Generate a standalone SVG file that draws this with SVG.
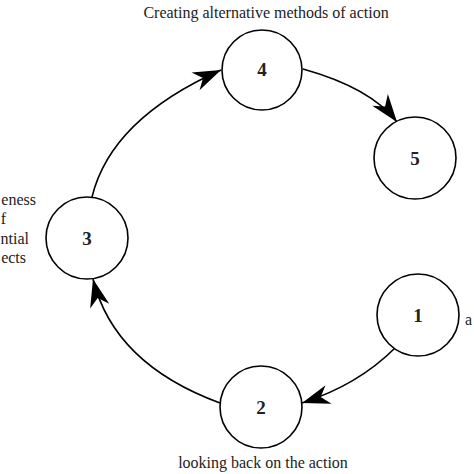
<svg xmlns="http://www.w3.org/2000/svg" width="474" height="474" viewBox="0 0 474 474">
<style>
.node{fill:#fff;stroke:#000;stroke-width:1.6}
.num{font-family:"Liberation Serif",serif;font-weight:bold;font-size:19px;text-anchor:middle;fill:#222}
.lbl{font-family:"Liberation Serif",serif;font-size:16px;fill:#222}
.edge{fill:none;stroke:#000;stroke-width:1.6}
</style>
<defs>
<marker id="ah" markerUnits="userSpaceOnUse" markerWidth="32" markerHeight="24" viewBox="-29 -11 31 22" refX="0" refY="0" orient="auto">
<path d="M0,0 L-27,-9.5 L-19,0 L-27,9.5 z" fill="#000"/>
</marker>
</defs>
<rect width="474" height="474" fill="#fff"/>
<g id="connectors">
<path class="edge" d="M395,348 Q358,385 302,403" marker-end="url(#ah)"/>
<path class="edge" d="M220,403 Q114,364 93,279" marker-end="url(#ah)"/>
<path class="edge" d="M92,197 Q111,119 221,70" marker-end="url(#ah)"/>
<path class="edge" d="M303,69 Q371,88 397,122" marker-end="url(#ah)"/>
</g>
<g id="node1"><circle class="node" cx="418" cy="315" r="41"/><text class="num" x="418" y="322">1</text></g>
<g id="node2"><circle class="node" cx="261" cy="407" r="41"/><text class="num" x="261" y="414">2</text></g>
<g id="node3"><circle class="node" cx="87" cy="238" r="41"/><text class="num" x="87" y="245">3</text></g>
<g id="node4"><circle class="node" cx="262" cy="70" r="40"/><text class="num" x="262" y="76">4</text></g>
<g id="node5"><circle class="node" cx="415" cy="158" r="41"/><text class="num" x="415" y="165">5</text></g>
<text class="lbl" x="266" y="18" text-anchor="middle">Creating alternative methods of action</text>
<text class="lbl" x="263" y="468" text-anchor="middle">looking back on the action</text>
<g class="lbl" text-anchor="end">
<text x="36" y="205">eness</text>
<text x="6" y="224">f</text>
<text x="29" y="244">ntial</text>
<text x="26" y="263">ects</text>
</g>
<text class="lbl" x="465" y="325">a</text>
</svg>
